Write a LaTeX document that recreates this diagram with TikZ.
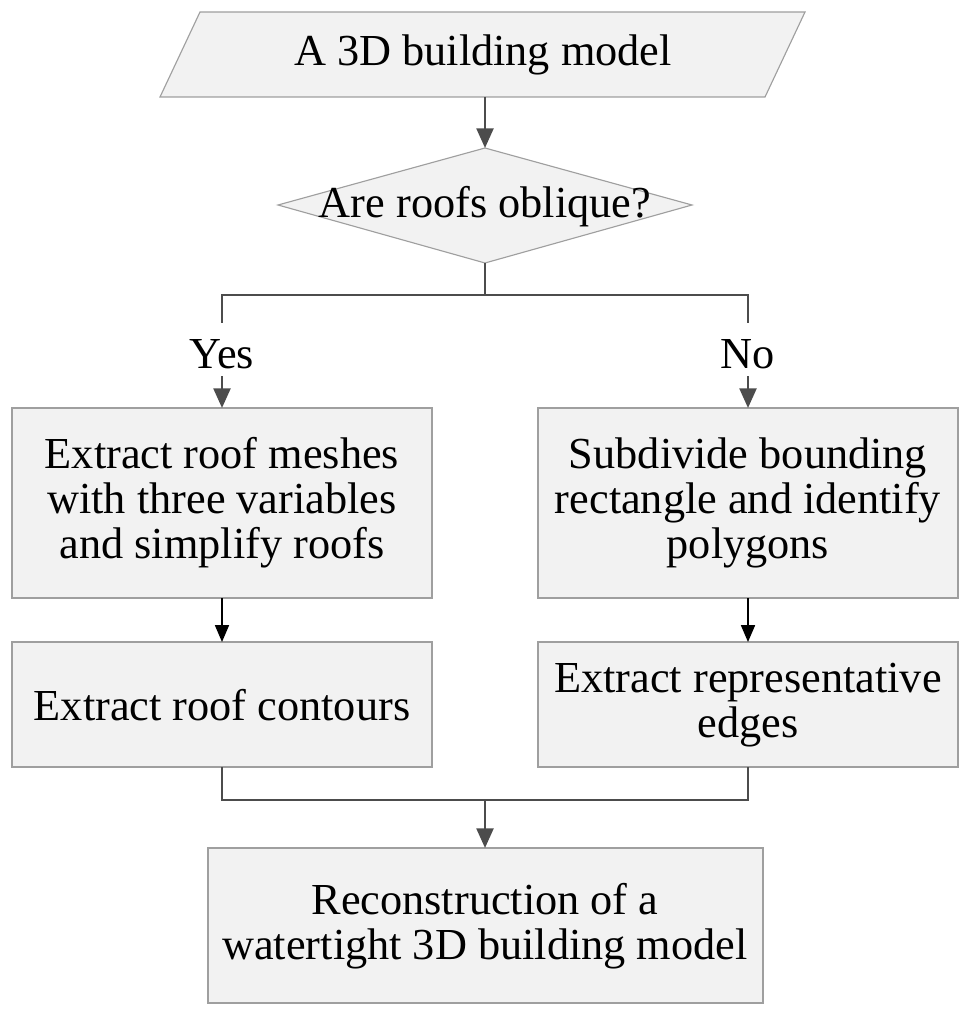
\documentclass[tikz,border=0pt]{standalone}
\usepackage{fontspec}
\setmainfont{Liberation Serif}
\usetikzlibrary{arrows.meta}
\begin{document}
\begin{tikzpicture}[x=0.025cm,y=-0.025cm,
  box/.style={draw=gray!75,fill=gray!10,line width=0.8pt},
  thick/.style={draw=black!70,line width=2pt},
  big/.style={thick,-{Triangle[length=14pt,width=12pt]}},
  small/.style={draw=black,line width=1pt,-{Triangle[length=12pt,width=10pt]}},
  lbl/.style={font=\fontsize{31.5}{32}\selectfont,align=center,inner sep=0pt}]
\useasboundingbox (0,0) rectangle (972,1024);
\draw[box] (160,97) -- (200,12) -- (805,12) -- (765,97) -- cycle;
\node[lbl] (top) at (483,55) {A 3D building model};
\coordinate (topb) at (485,97);
\draw[box] (278,205) -- (485,148) -- (692,205) -- (485,263) -- cycle;
\node[lbl] (dia) at (485,207) {Are roofs oblique?};
\coordinate (diat) at (485,148);
\coordinate (diab) at (485,263);
\draw[box] (12,408) rectangle (432,598);
\node[lbl] (l1t) at (222,503) {Extract roof meshes\\with three variables\\and simplify roofs};
\draw[box] (538,408) rectangle (958,598);
\node[lbl] (r1t) at (748,503) {Subdivide bounding\\rectangle and identify\\polygons};
\draw[box] (12,642) rectangle (432,767);
\node[lbl] (l2t) at (222,705) {Extract roof contours};
\draw[box] (538,642) rectangle (958,767);
\node[lbl] (r2t) at (748,705) {Extract representative\\edges};
\draw[box] (208,848) rectangle (763,1003);
\node[lbl] (bt) at (485,926) {Reconstruction of a\\watertight 3D building model};
\node[lbl] (yes) at (222,354) {Yes};
\node[lbl] (no) at (748,354) {No};
\coordinate (l1top) at (222,408); \coordinate (l1bot) at (222,598);
\coordinate (r1top) at (748,408); \coordinate (r1bot) at (748,598);
\coordinate (l2top) at (222,642); \coordinate (l2bot) at (222,767);
\coordinate (r2top) at (748,642); \coordinate (r2bot) at (748,767);
\coordinate (btop) at (485,848);
\coordinate (j1) at (485,295); \coordinate (j2) at (485,800);
\draw[big] (topb) -- (diat);
\draw[thick] (diab) -- (j1) -| (222,323);
\draw[thick] (j1) -| (748,323);
\draw[big] (222,376) -- (l1top);
\draw[big] (748,376) -- (r1top);
\draw[small] (l1bot) -- (l2top);
\draw[small] (r1bot) -- (r2top);
\draw[thick] (l2bot) |- (j2) -| (r2bot);
\draw[big] (j2) -- (btop);
\end{tikzpicture}
\end{document}
